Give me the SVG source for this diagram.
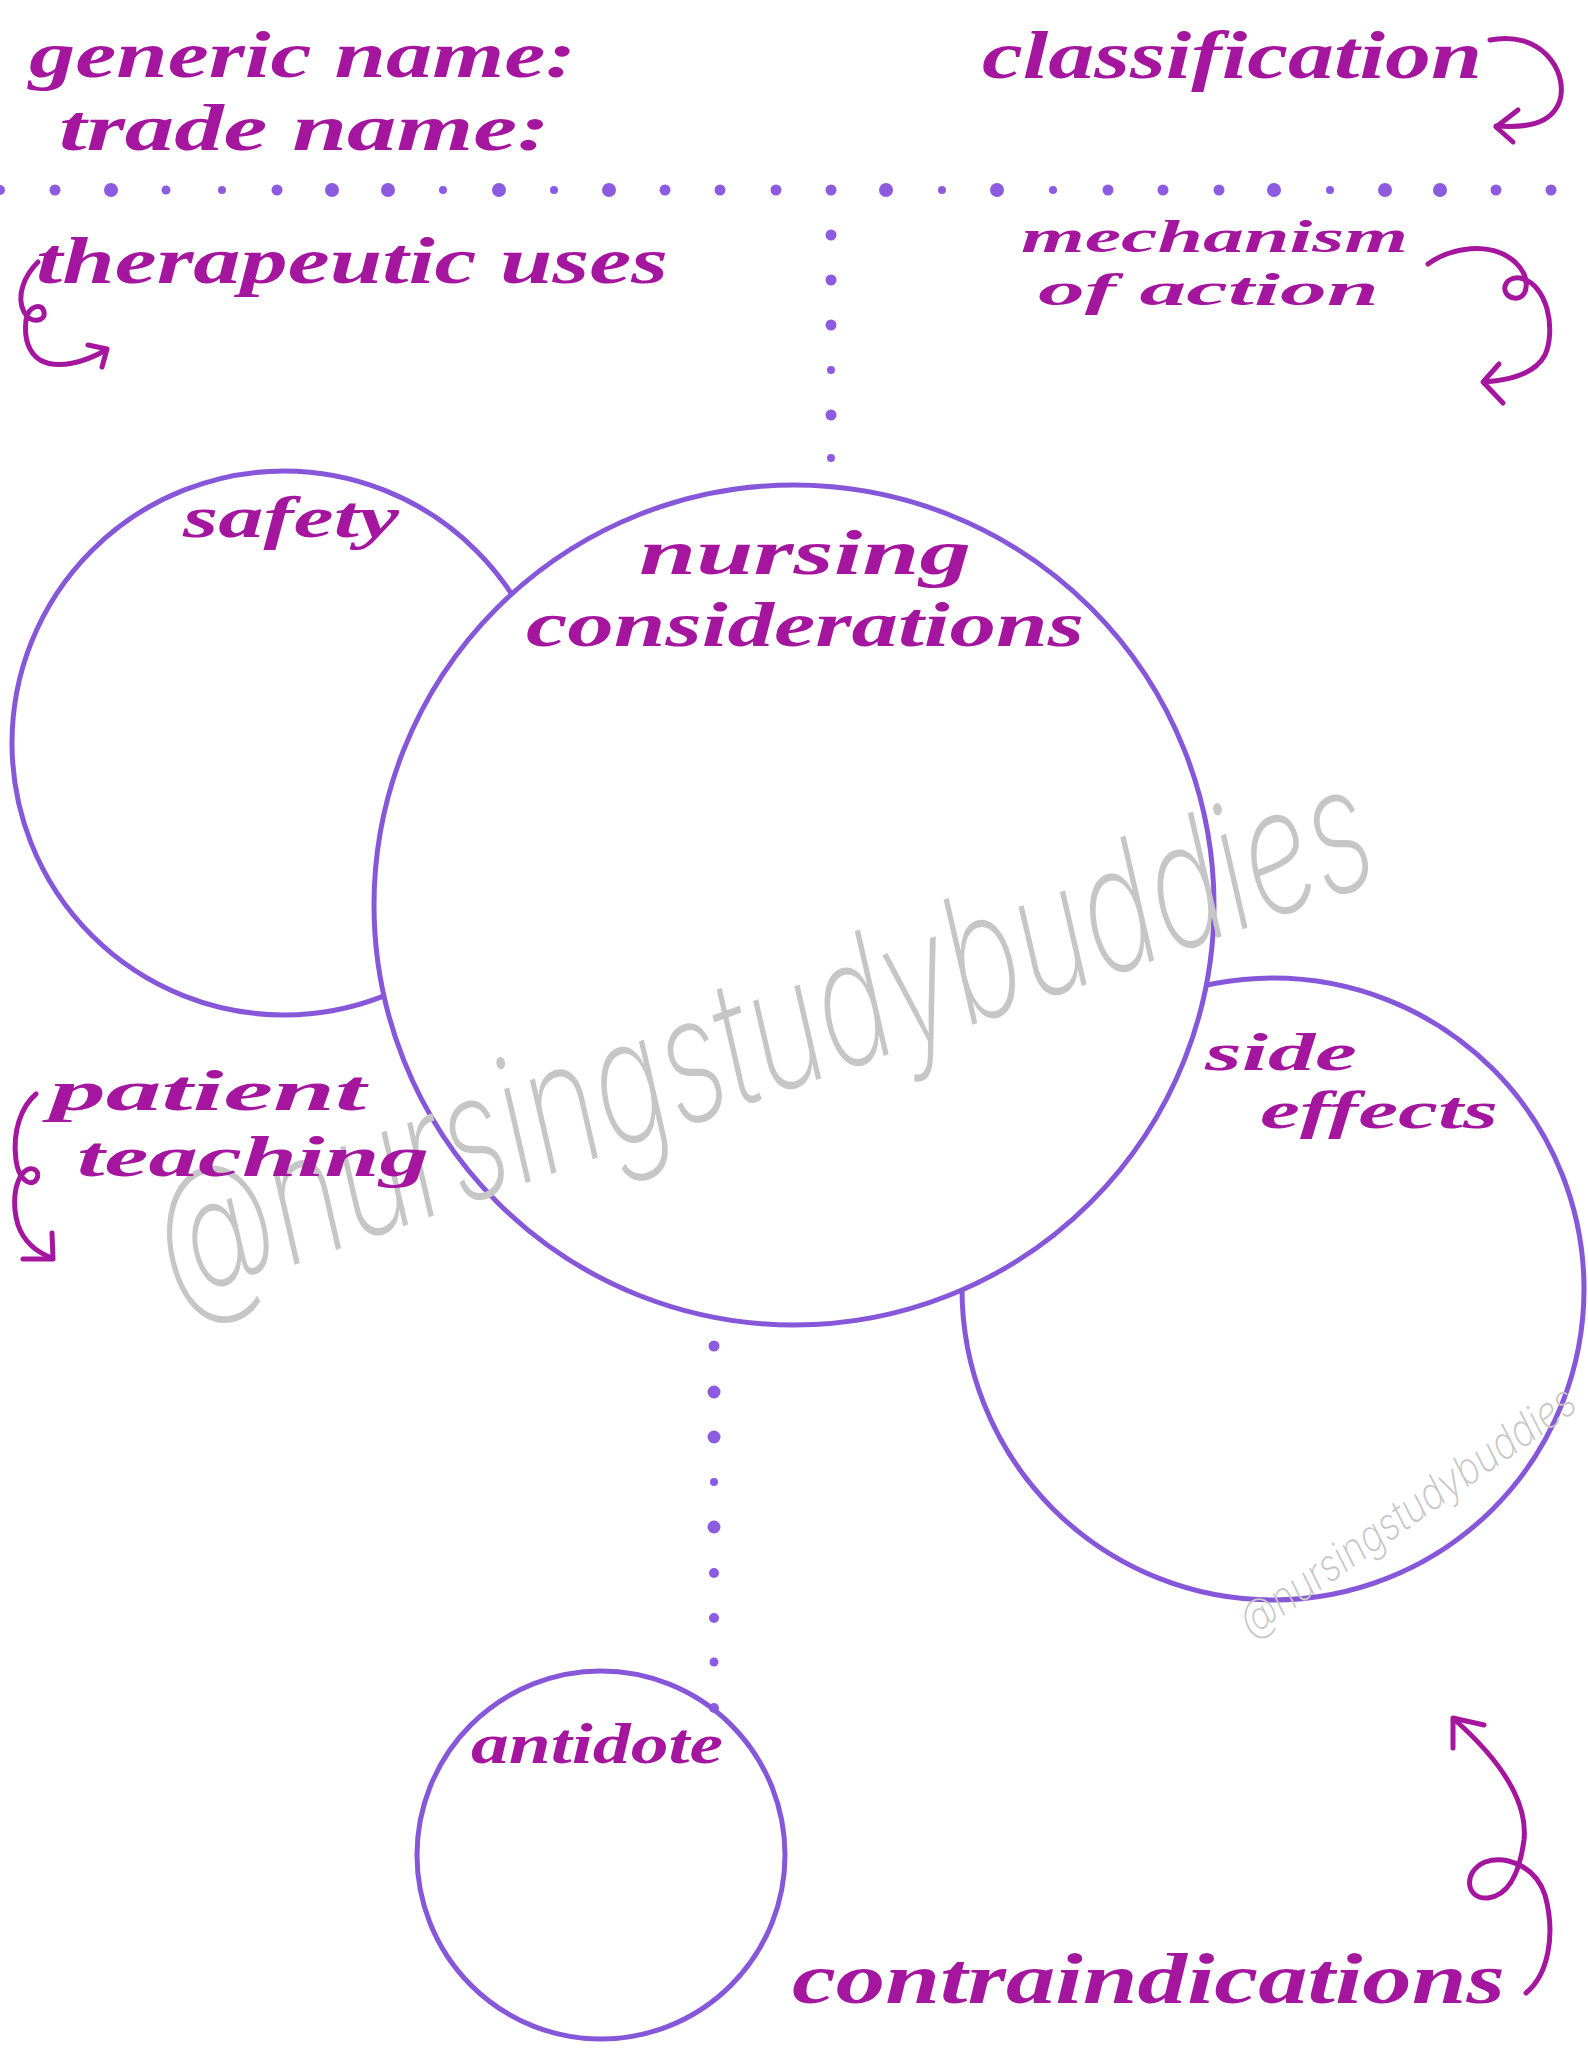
<svg xmlns="http://www.w3.org/2000/svg" width="1588" height="2053" viewBox="0 0 1588 2053">
<style>
.lbl{font-family:"Liberation Serif","DejaVu Serif",serif;font-style:italic;font-weight:bold;fill:#a5169f;}
.ring{fill:none;stroke:#8757d9;stroke-width:5;}
.ringw{fill:#fff;stroke:#8757d9;stroke-width:5;}
.dot{fill:#8c5be0;}
.arr{fill:none;stroke:#a5169f;stroke-width:5;stroke-linecap:round;stroke-linejoin:round;}
.wm{font-family:Inter,"Liberation Sans",sans-serif;font-style:italic;font-weight:200;fill:#c6c6c6;}
</style>
<rect width="1588" height="2053" fill="#fff"/>

<g id="header">
<text class="lbl" x="29" y="77" font-size="65" textLength="547" lengthAdjust="spacingAndGlyphs">generic name:</text>
<text class="lbl" x="59" y="150" font-size="65" textLength="491" lengthAdjust="spacingAndGlyphs">trade name:</text>
<text class="lbl" x="982" y="78" font-size="68" textLength="500" lengthAdjust="spacingAndGlyphs">classification</text>
</g>

<g id="dividers">
<circle class="dot" cx="0" cy="190" r="5"/><circle class="dot" cx="55" cy="190" r="5.5"/><circle class="dot" cx="111" cy="190" r="7"/><circle class="dot" cx="166" cy="190" r="4.5"/><circle class="dot" cx="222" cy="190" r="4"/><circle class="dot" cx="277" cy="190" r="5.5"/><circle class="dot" cx="332" cy="190" r="7"/><circle class="dot" cx="388" cy="190" r="7"/><circle class="dot" cx="443" cy="190" r="4"/><circle class="dot" cx="499" cy="190" r="7"/><circle class="dot" cx="554" cy="190" r="4"/><circle class="dot" cx="609" cy="190" r="7"/><circle class="dot" cx="665" cy="190" r="5.5"/><circle class="dot" cx="720" cy="190" r="5.5"/><circle class="dot" cx="776" cy="190" r="5.5"/><circle class="dot" cx="831" cy="190" r="5.5"/><circle class="dot" cx="886" cy="190" r="7"/><circle class="dot" cx="942" cy="190" r="4"/><circle class="dot" cx="997" cy="190" r="7"/><circle class="dot" cx="1053" cy="190" r="4"/><circle class="dot" cx="1108" cy="190" r="5.5"/><circle class="dot" cx="1163" cy="190" r="5.5"/><circle class="dot" cx="1219" cy="190" r="5.5"/><circle class="dot" cx="1274" cy="190" r="7"/><circle class="dot" cx="1330" cy="190" r="4"/><circle class="dot" cx="1385" cy="190" r="7"/><circle class="dot" cx="1440" cy="190" r="7"/><circle class="dot" cx="1496" cy="190" r="5.5"/><circle class="dot" cx="1551" cy="190" r="5.5"/>
<circle class="dot" cx="831" cy="235" r="5.5"/><circle class="dot" cx="831" cy="280" r="5.5"/><circle class="dot" cx="831" cy="325" r="5.5"/><circle class="dot" cx="831" cy="370" r="4"/><circle class="dot" cx="831" cy="415" r="5.5"/><circle class="dot" cx="831" cy="458" r="4"/>
<circle class="dot" cx="714" cy="1346" r="5.5"/><circle class="dot" cx="714" cy="1392" r="6.5"/><circle class="dot" cx="714" cy="1437" r="6.5"/><circle class="dot" cx="714" cy="1482" r="4"/><circle class="dot" cx="714" cy="1527" r="6.5"/><circle class="dot" cx="714" cy="1573" r="5"/><circle class="dot" cx="714" cy="1618" r="5"/><circle class="dot" cx="714" cy="1662" r="4.5"/><circle class="dot" cx="714" cy="1708" r="5"/>
</g>

<g id="side-effects">
<circle class="ring" cx="1273" cy="1289" r="311"/>
</g>
<g id="safety">
<circle class="ring" cx="284" cy="743" r="272"/>
</g>
<g id="nursing-considerations">
<circle class="ringw" cx="794" cy="905" r="420"/>
</g>
<g id="antidote">
<circle class="ring" cx="601" cy="1855" r="184"/>
</g>

<g id="watermark">
<text class="wm" x="0" y="0" font-size="175" textLength="1280" lengthAdjust="spacingAndGlyphs" transform="translate(178,1306) rotate(-19.5)">@nursingstudybuddies</text>
<text class="wm" x="0" y="0" font-size="44" textLength="400" lengthAdjust="spacingAndGlyphs" transform="translate(1252,1638) rotate(-35)">@nursingstudybuddies</text>
</g>

<g id="labels">
<text class="lbl" x="36" y="283" font-size="66" textLength="632" lengthAdjust="spacingAndGlyphs">therapeutic uses</text>
<text class="lbl" x="1021" y="252" font-size="47" textLength="387" lengthAdjust="spacingAndGlyphs">mechanism</text>
<text class="lbl" x="1038" y="305" font-size="47" textLength="341" lengthAdjust="spacingAndGlyphs">of action</text>
<text class="lbl" x="183" y="537" font-size="60" textLength="216" lengthAdjust="spacingAndGlyphs">safety</text>
<text class="lbl" x="639" y="574" font-size="64" textLength="332" lengthAdjust="spacingAndGlyphs">nursing</text>
<text class="lbl" x="526" y="646" font-size="64" textLength="558" lengthAdjust="spacingAndGlyphs">considerations</text>
<text class="lbl" x="1205" y="1070" font-size="52" textLength="152" lengthAdjust="spacingAndGlyphs">side</text>
<text class="lbl" x="1260" y="1128" font-size="52" textLength="238" lengthAdjust="spacingAndGlyphs">effects</text>
<text class="lbl" x="50" y="1110" font-size="58" textLength="316" lengthAdjust="spacingAndGlyphs">patient</text>
<text class="lbl" x="77" y="1176" font-size="58" textLength="352" lengthAdjust="spacingAndGlyphs">teaching</text>
<text class="lbl" x="471" y="1763" font-size="56" textLength="252" lengthAdjust="spacingAndGlyphs">antidote</text>
<text class="lbl" x="792" y="2003" font-size="72" textLength="713" lengthAdjust="spacingAndGlyphs">contraindications</text>
</g>

<g id="connectors">
<path class="arr" d="M1490,40 C1540,30 1568,70 1560,100 C1552,125 1525,128 1496,126"/>
<path class="arr" d="M1518,110 L1496,127 L1513,142"/>
<path class="arr" d="M38,262 C24,276 16,296 24,312 C30,324 46,322 44,312 C42,302 28,306 26,320 C24,338 28,352 40,360 C58,370 85,362 106,350"/>
<path class="arr" d="M88,345 L107,349 L102,367"/>
<path class="arr" d="M1428,264 C1450,248 1490,240 1515,262 C1532,278 1528,300 1514,298 C1500,296 1502,276 1520,278 C1548,284 1556,330 1545,355 C1536,372 1515,380 1484,382"/>
<path class="arr" d="M1499,364 L1483,382 L1503,403"/>
<path class="arr" d="M36,1094 C22,1106 12,1130 16,1160 C18,1178 30,1188 36,1180 C42,1172 32,1164 24,1172 C14,1182 12,1205 18,1225 C24,1242 36,1252 52,1258"/>
<path class="arr" d="M23,1259 L53,1259 L52,1233"/>
<path class="arr" d="M1526,1993 C1548,1975 1556,1935 1545,1895 C1535,1865 1505,1855 1485,1862 C1462,1872 1466,1900 1488,1898 C1510,1895 1520,1870 1524,1840 C1528,1800 1500,1760 1455,1720"/>
<path class="arr" d="M1453,1748 L1453,1718 L1484,1725"/>
</g>
</svg>
